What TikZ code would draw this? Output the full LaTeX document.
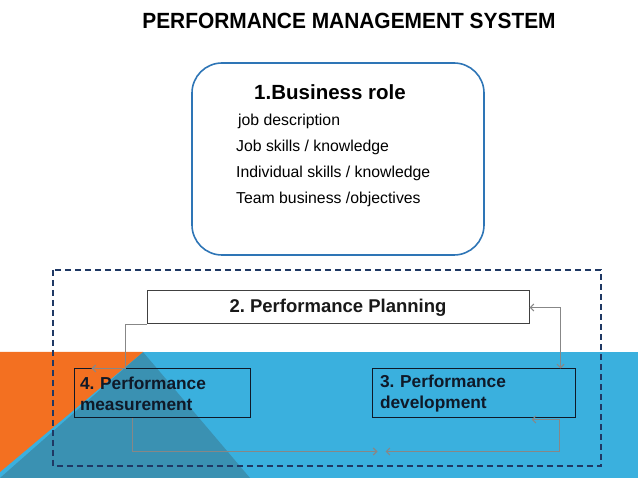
\documentclass[tikz,border=0pt]{standalone}
\usepackage{fontspec}
\setmainfont{Liberation Sans}
\newfontfamily\titlefont[FakeStretch=0.95]{Liberation Sans Bold}
\usetikzlibrary{arrows.meta,calc}
\definecolor{bgblue}{RGB}{58,176,222}
\definecolor{bgteal}{RGB}{58,145,178}
\definecolor{bgorange}{RGB}{243,112,33}
\definecolor{navy}{RGB}{31,56,100}
\definecolor{roleblue}{RGB}{46,117,182}
\definecolor{conngray}{RGB}{135,135,135}
\definecolor{inktext}{RGB}{15,25,40}
\tikzset{
  conn/.style={draw=conngray, line width=1.1pt, -{Straight Barb[length=3.5pt,width=7pt]}},
  connboth/.style={draw=conngray, line width=1.1pt, {Straight Barb[length=3.5pt,width=7pt]}-{Straight Barb[length=3.5pt,width=7pt]}},
  itemtext/.style={anchor=west, inner sep=0pt, font=\fontsize{15.8}{18}\selectfont},
  stagebox/.style={draw=inktext, line width=1pt, minimum height=49pt, align=left, inner ysep=2pt,
    text=inktext, font=\fontsize{17.3}{21}\selectfont\bfseries},
}
\frenchspacing
\begin{document}
\begin{tikzpicture}[x=1pt,y=-1pt]
\useasboundingbox (0,0) rectangle (638,478);
% background
\fill[bgblue] (0,352) rectangle (638,478);
\fill[bgteal] (143,352) -- (250,478) -- (0,478) -- cycle;
\fill[bgorange] (0,352) -- (143,352) -- (0,472) -- cycle;
% title
\node[font=\titlefont\fontsize{22}{24}\selectfont, inner sep=0pt] (title) at (349,21) {PERFORMANCE MANAGEMENT SYSTEM};
% business role box
\node[draw=roleblue, line width=1.6pt, rounded corners=30pt, minimum width=292pt, minimum height=192pt] (b1) at (338,159) {};
\node[font=\fontsize{20.5}{24}\selectfont\bfseries, inner sep=0pt] (b1t) at (330,92) {1.Business role};
\node[itemtext] (i1) at (238,121) {job description};
\node[itemtext] (i2) at (236,147) {Job skills / knowledge};
\node[itemtext] (i3) at (236,173) {Individual skills / knowledge};
\node[itemtext] (i4) at (236,199) {Team business /objectives};
% dashed frame
\draw[navy, line width=1.8pt, dash pattern=on 6pt off 4pt] (53,270) rectangle (601,466);
% planning
\node[draw=black!75, fill=white, line width=1pt, minimum width=382pt, minimum height=33pt,
  font=\fontsize{18.5}{22}\selectfont\bfseries, text=black!90] (b2) at (338,307.5) {2. Performance Planning};
% stage boxes
\node[stagebox, minimum width=176pt, text width=164pt, inner xsep=6pt] (b4) at (162,393.5) {4. Performance\\measurement};
\node[stagebox, minimum width=203pt, text width=187pt, inner xsep=8pt] (b3) at (473.5,393.5) {3. Performance\\development};
% connectors
\draw[conn] (b2.south west) -- ++(-21,0) |- ($(b4.north west)+(18,0)$);
\draw[connboth] (b2.east) -| ($(b3.north east)+(-15,0)$);
\draw[conn] ($(b4.south west)+(59,0)$) |- ($(b3.south west)+(6,33)$);
\draw[connboth] ($(b3.south west)+(14,33)$) -| ($(b3.south east)+(-16,1)$) -- ($(b3.south west)+(160,1)$);
\end{tikzpicture}
\end{document}
